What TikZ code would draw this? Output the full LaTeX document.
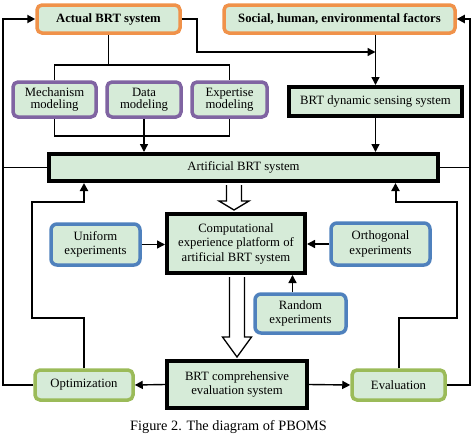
\documentclass[tikz,border=0pt]{standalone}
\usepackage{fontspec}
\setmainfont{Liberation Serif}
\usetikzlibrary{arrows.meta,calc}
\definecolor{boxfill}{RGB}{214,235,216}
\definecolor{orangeb}{RGB}{240,146,74}
\definecolor{purpleb}{RGB}{128,100,162}
\definecolor{blueb}{RGB}{79,129,189}
\definecolor{greenb}{RGB}{155,187,89}
\tikzset{
  base/.style={fill=boxfill, align=center, inner sep=1pt, font=\fontsize{12.7}{14.5}\selectfont},
  orangebox/.style={base, draw=orangeb, line width=3.5pt, rounded corners=5pt, font=\fontsize{12.7}{14.5}\selectfont\bfseries},
  purplebox/.style={base, draw=purpleb, line width=3.5pt, rounded corners=5pt, font=\fontsize{12.7}{12.5}\selectfont},
  bluebox/.style={base, draw=blueb, line width=3.5pt, rounded corners=6pt},
  greenbox/.style={base, draw=greenb, line width=3.5pt, rounded corners=5pt},
  blackbox/.style={base, draw=black, line width=4pt},
  conn/.style={draw=black, line width=1.4pt},
  outer/.style={draw=black, line width=2pt},
  arr/.style={-{Triangle[length=8pt,width=8pt]}},
  hollow/.style={draw=black, fill=white, line width=1.3pt, line join=miter},
}
\begin{document}
\begin{tikzpicture}[x=1pt,y=-1pt]
\useasboundingbox (0,0) rectangle (474,437);
% top
\node[orangebox, minimum width=143pt, minimum height=28pt] (actual) at (108.5,19) {Actual BRT system};
\node[orangebox, minimum width=231pt, minimum height=28pt] (social) at (339.5,19) {Social, human, environmental factors};
% modeling
\node[purplebox, minimum width=83pt, minimum height=35pt] (mech) at (54.5,99.5) {Mechanism\\modeling};
\node[purplebox, minimum width=74pt, minimum height=35pt] (data) at (144,99.5) {Data\\modeling};
\node[purplebox, minimum width=75pt, minimum height=35pt] (expert) at (229.5,99.5) {Expertise\\modeling};
\node[blackbox, minimum width=173pt, minimum height=29pt] (sensing) at (375.5,101.5) {BRT dynamic sensing system};
% artificial
\node[blackbox, minimum width=389pt, minimum height=27pt] (artificial) at (243.5,167.5) {Artificial BRT system};
% computational
\node[blackbox, minimum width=138pt, minimum height=59pt] (comp) at (236,243.5) {Computational\\experience platform of\\artificial BRT system};
\node[bluebox, minimum width=89pt, minimum height=41pt] (uniform) at (95.5,244.5) {Uniform\\experiments};
\node[bluebox, minimum width=99pt, minimum height=42pt] (ortho) at (380.5,244) {Orthogonal\\experiments};
\node[bluebox, minimum width=91pt, minimum height=39pt] (random) at (300.5,313.5) {Random\\experiments};
% bottom
\node[blackbox, minimum width=140pt, minimum height=47pt] (brtcomp) at (237,384.5) {BRT comprehensive\\evaluation system};
\node[greenbox, minimum width=98pt, minimum height=30pt] (opt) at (84,385) {Optimization};
\node[greenbox, minimum width=93pt, minimum height=30pt] (eval) at (398.5,385) {Evaluation};
% caption
\node[font=\fontsize{14.3}{16}\selectfont] (cap) at (228.5,427) {Figure 2. The diagram of PBOMS};

% coordinates
\coordinate (a1) at (197,52);
\coordinate (topbus) at (0,65);
\coordinate (botbus) at (0,136);
\coordinate (lft) at (3,19);
\coordinate (rgt) at (470,19);
\coordinate (o1) at (32,318);
\coordinate (o2) at (32,202);
\coordinate (e1) at (457,318);
\coordinate (e2) at (457,202);

% connectors top
\draw[conn,arr] (actual.east) -| (a1) -- (a1 -| sensing.north);
\draw[conn,arr] (sensing.north |- social.south) -- (sensing.north);
\draw[conn] (actual.south) -- (actual.south |- topbus);
\draw[conn] (mech.north) -- (mech.north |- topbus) -- (expert.north |- topbus) -- (expert.north);
\draw[conn] (mech.south) -- (mech.south |- botbus) -- (expert.south |- botbus) -- (expert.south);
\draw[conn,arr] (data.south) -- (data.south |- artificial.north);
\draw[conn,arr] (sensing.south) -- (sensing.south |- artificial.north);

% outer loops
\draw[outer,arr] (opt.west) -| (lft) -- (actual.west);
\draw[conn] (artificial.west) -- (artificial.west -| lft);
\draw[outer,arr] (eval.east) -| (rgt) -- (social.east);
\draw[conn] (artificial.east) -- (artificial.east -| rgt);

% feedback
\draw[outer,arr] (opt.north) |- (o1) -- (o2) -| (opt.north |- artificial.south);
\draw[outer,arr] (eval.north) |- (e1) -- (e2) -| ([xshift=-3pt]eval.north |- artificial.south);

% experiments
\draw[conn,arr] (uniform.east) -- (uniform.east -| comp.west);
\draw[conn,arr] (ortho.west) -- (ortho.west -| comp.east);
\draw[conn,arr] ([xshift=-8pt]random.north) -- ([xshift=-8pt]random.north |- comp.south);

% bottom arrows
\draw[conn,arr] (brtcomp.west) -- (opt.east);
\draw[conn,arr] (brtcomp.east) -- (eval.west);

% hollow arrows
\coordinate (t1) at ($(comp.north)+(-2,-2)$);
\coordinate (s1) at ($(artificial.south -| t1)+(0,2)$);
\draw[hollow] ($(s1)+(-7.5,0)$) -- ($(t1)+(-7.5,-9)$) -- ($(t1)+(-15,-9)$) -- (t1)
  -- ($(t1)+(15,-9)$) -- ($(t1)+(7.5,-9)$) -- ($(s1)+(7.5,0)$);
\coordinate (t2) at ($(brtcomp.north)+(0,-2)$);
\coordinate (s2) at ($(comp.south -| t2)+(0,2)$);
\draw[hollow] ($(s2)+(-7.5,0)$) -- ($(t2)+(-7.5,-20)$) -- ($(t2)+(-14.5,-20)$) -- (t2)
  -- ($(t2)+(14.5,-20)$) -- ($(t2)+(7.5,-20)$) -- ($(s2)+(7.5,0)$);
\end{tikzpicture}
\end{document}
